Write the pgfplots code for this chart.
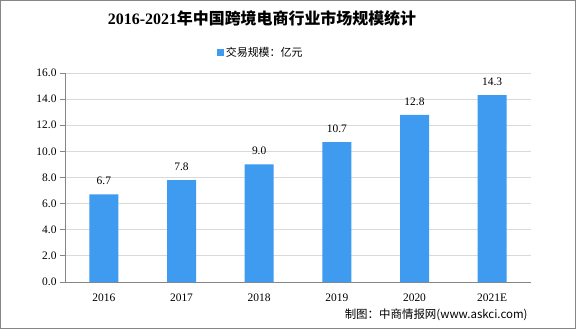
\documentclass[border=0pt]{standalone}
\usepackage{pgfplots}
\pgfplotsset{compat=1.18}
\usepackage{fontspec}
\setmainfont{Liberation Serif}
\newfontfamily\cjk{Noto Sans CJK SC}
\definecolor{barblue}{RGB}{62,155,240}
\definecolor{gridgray}{RGB}{217,217,217}
\definecolor{axisgray}{RGB}{134,134,134}
\begin{document}
\begin{tikzpicture}[x=1bp,y=1bp]
\useasboundingbox (0,0) rectangle (576,329);
\fill[white] (0,0) rectangle (576,329);
\draw[axisgray, line width=1bp] (0.5,0.5) rectangle (575.5,328.5);
\node[font=\bfseries\fontsize{16}{19}\selectfont] at (262,311) {2016-2021{\cjk\bfseries 年中国跨境电商行业市场规模统计}};
\begin{axis}[
  at={(65bp,47bp)}, anchor=south west,
  scale only axis, width=466bp, height=209bp,
  xmin=0, xmax=6, ymin=0, ymax=16,
  axis x line=bottom, axis y line=left,
  axis line style={-, axisgray, line width=0.8bp},
  tick align=outside,
  ytick={0,2,...,16},
  ymajorgrids, grid style={gridgray, line width=0.8bp},
  ytick style={axisgray, line width=0.8bp},
  major tick length=5bp,
  xtick={0.5,1.5,...,5.5},
  xticklabels={2016,2017,2018,2019,2020,2021E},
  xtick style={draw=none},
  minor xtick={0,1,...,6},
  minor tick length=5bp,
  minor x tick style={axisgray, line width=0.8bp},
  ticklabel style={font=\fontsize{11.5}{13}\selectfont},
  yticklabel style={/pgf/number format/fixed, /pgf/number format/fixed zerofill, /pgf/number format/precision=1},
  /pgf/number format/assume math mode=true,
  xticklabel style={yshift=-3bp},
  legend style={at={(0.42,1.1)}, anchor=center, draw=none, fill=none, font=\cjk\fontsize{11}{13}\selectfont},
  legend image code/.code={\fill[barblue] (0bp,-3.5bp) rectangle (7bp,3.5bp);},
  clip=false,
]
\addplot[ybar, bar width=29bp, fill=barblue, draw=none,
  nodes near coords,
  nodes near coords style={font=\fontsize{11.5}{13}\selectfont, /pgf/number format/fixed, /pgf/number format/fixed zerofill, /pgf/number format/precision=1, yshift=6bp},
] coordinates {(0.5,6.7)(1.5,7.8)(2.5,9.0)(3.5,10.7)(4.5,12.8)(5.5,14.3)};
\addlegendentry{交易规模：亿元}
\end{axis}
\node[font=\cjk\fontsize{11.5}{13}\selectfont, anchor=east] at (531,14) {制图：中商情报网(www.askci.com)};
\end{tikzpicture}
\end{document}
